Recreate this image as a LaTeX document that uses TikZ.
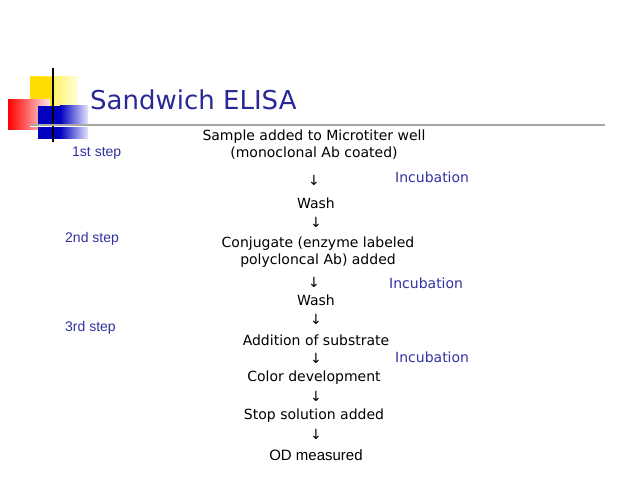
\documentclass[tikz,border=0pt]{standalone}
\usepackage{fontspec}
\setmainfont{DejaVu Sans}
\newfontfamily\arial{Liberation Sans}
\begin{document}
\begin{tikzpicture}[x=1pt,y=-1pt,
  flow/.style={font=\fontsize{14}{17}\selectfont, align=center, inner sep=0},
  lbl/.style={font=\arial\fontsize{14}{16}\selectfont, text=stepblue, inner sep=0, anchor=west},
  inc/.style={font=\fontsize{14}{16}\selectfont, text=stepblue, inner sep=0, anchor=west}]
\definecolor{stepblue}{RGB}{50,50,160}
\definecolor{titleblue}{RGB}{40,40,150}
\useasboundingbox (0,0) rectangle (638,478);
% logo
\shade[left color=yellow!80!orange, right color=yellow!15] (30,77) rectangle (78,118);
\fill[yellow!80!orange] (30,77) rectangle (52,118);
\shade[left color=red, right color=red!10] (8,100) rectangle (50,130);
\fill[blue!75!black] (38,106) rectangle (60,139);
\shade[left color=blue!75!black, right color=blue!10] (60,106) rectangle (88,139);
\draw[white, line width=2] (30,126) -- (88,126);
\draw[black, line width=1.6] (53,68) -- (53,142);
\draw[gray!70, line width=1.5] (30,125) -- (605,125);
\node[font=\fontsize{26}{30}\selectfont, text=titleblue, anchor=west, inner sep=0] (title) at (90,100) {Sandwich ELISA};
% step labels
\node[lbl] (s1) at (72,153) {1st step};
\node[lbl] (s2) at (65,239) {2nd step};
\node[lbl] (s3) at (65,328) {3rd step};
% flow
\node[flow] (a) at (314,145) {Sample added to Microtiter well\\(monoclonal Ab coated)};
\node[flow] (ar1) at (314,180) {↓};
\node[inc] (i1) at (395,177) {Incubation};
\node[flow] (w1) at (316,203) {Wash};
\node[flow] (ar2) at (316,222) {↓};
\node[flow] (c) at (318,252) {Conjugate (enzyme labeled\\polycloncal Ab) added};
\node[flow] (ar3) at (314,282) {↓};
\node[inc] (i2) at (389,283) {Incubation};
\node[flow] (w2) at (316,300) {Wash};
\node[flow] (ar4) at (316,319) {↓};
\node[flow] (sub) at (316,340) {Addition of substrate};
\node[flow] (ar5) at (316,358) {↓};
\node[inc] (i3) at (395,357) {Incubation};
\node[flow] (cd) at (314,378) {Color development};
\node[flow] (ar6) at (316,396) {↓};
\node[flow] (st) at (314,416) {Stop solution added};
\node[flow] (ar7) at (316,434) {↓};
\node[flow, font=\arial\fontsize{15}{17}\selectfont] (od) at (316,455) {OD measured};
\end{tikzpicture}
\end{document}
